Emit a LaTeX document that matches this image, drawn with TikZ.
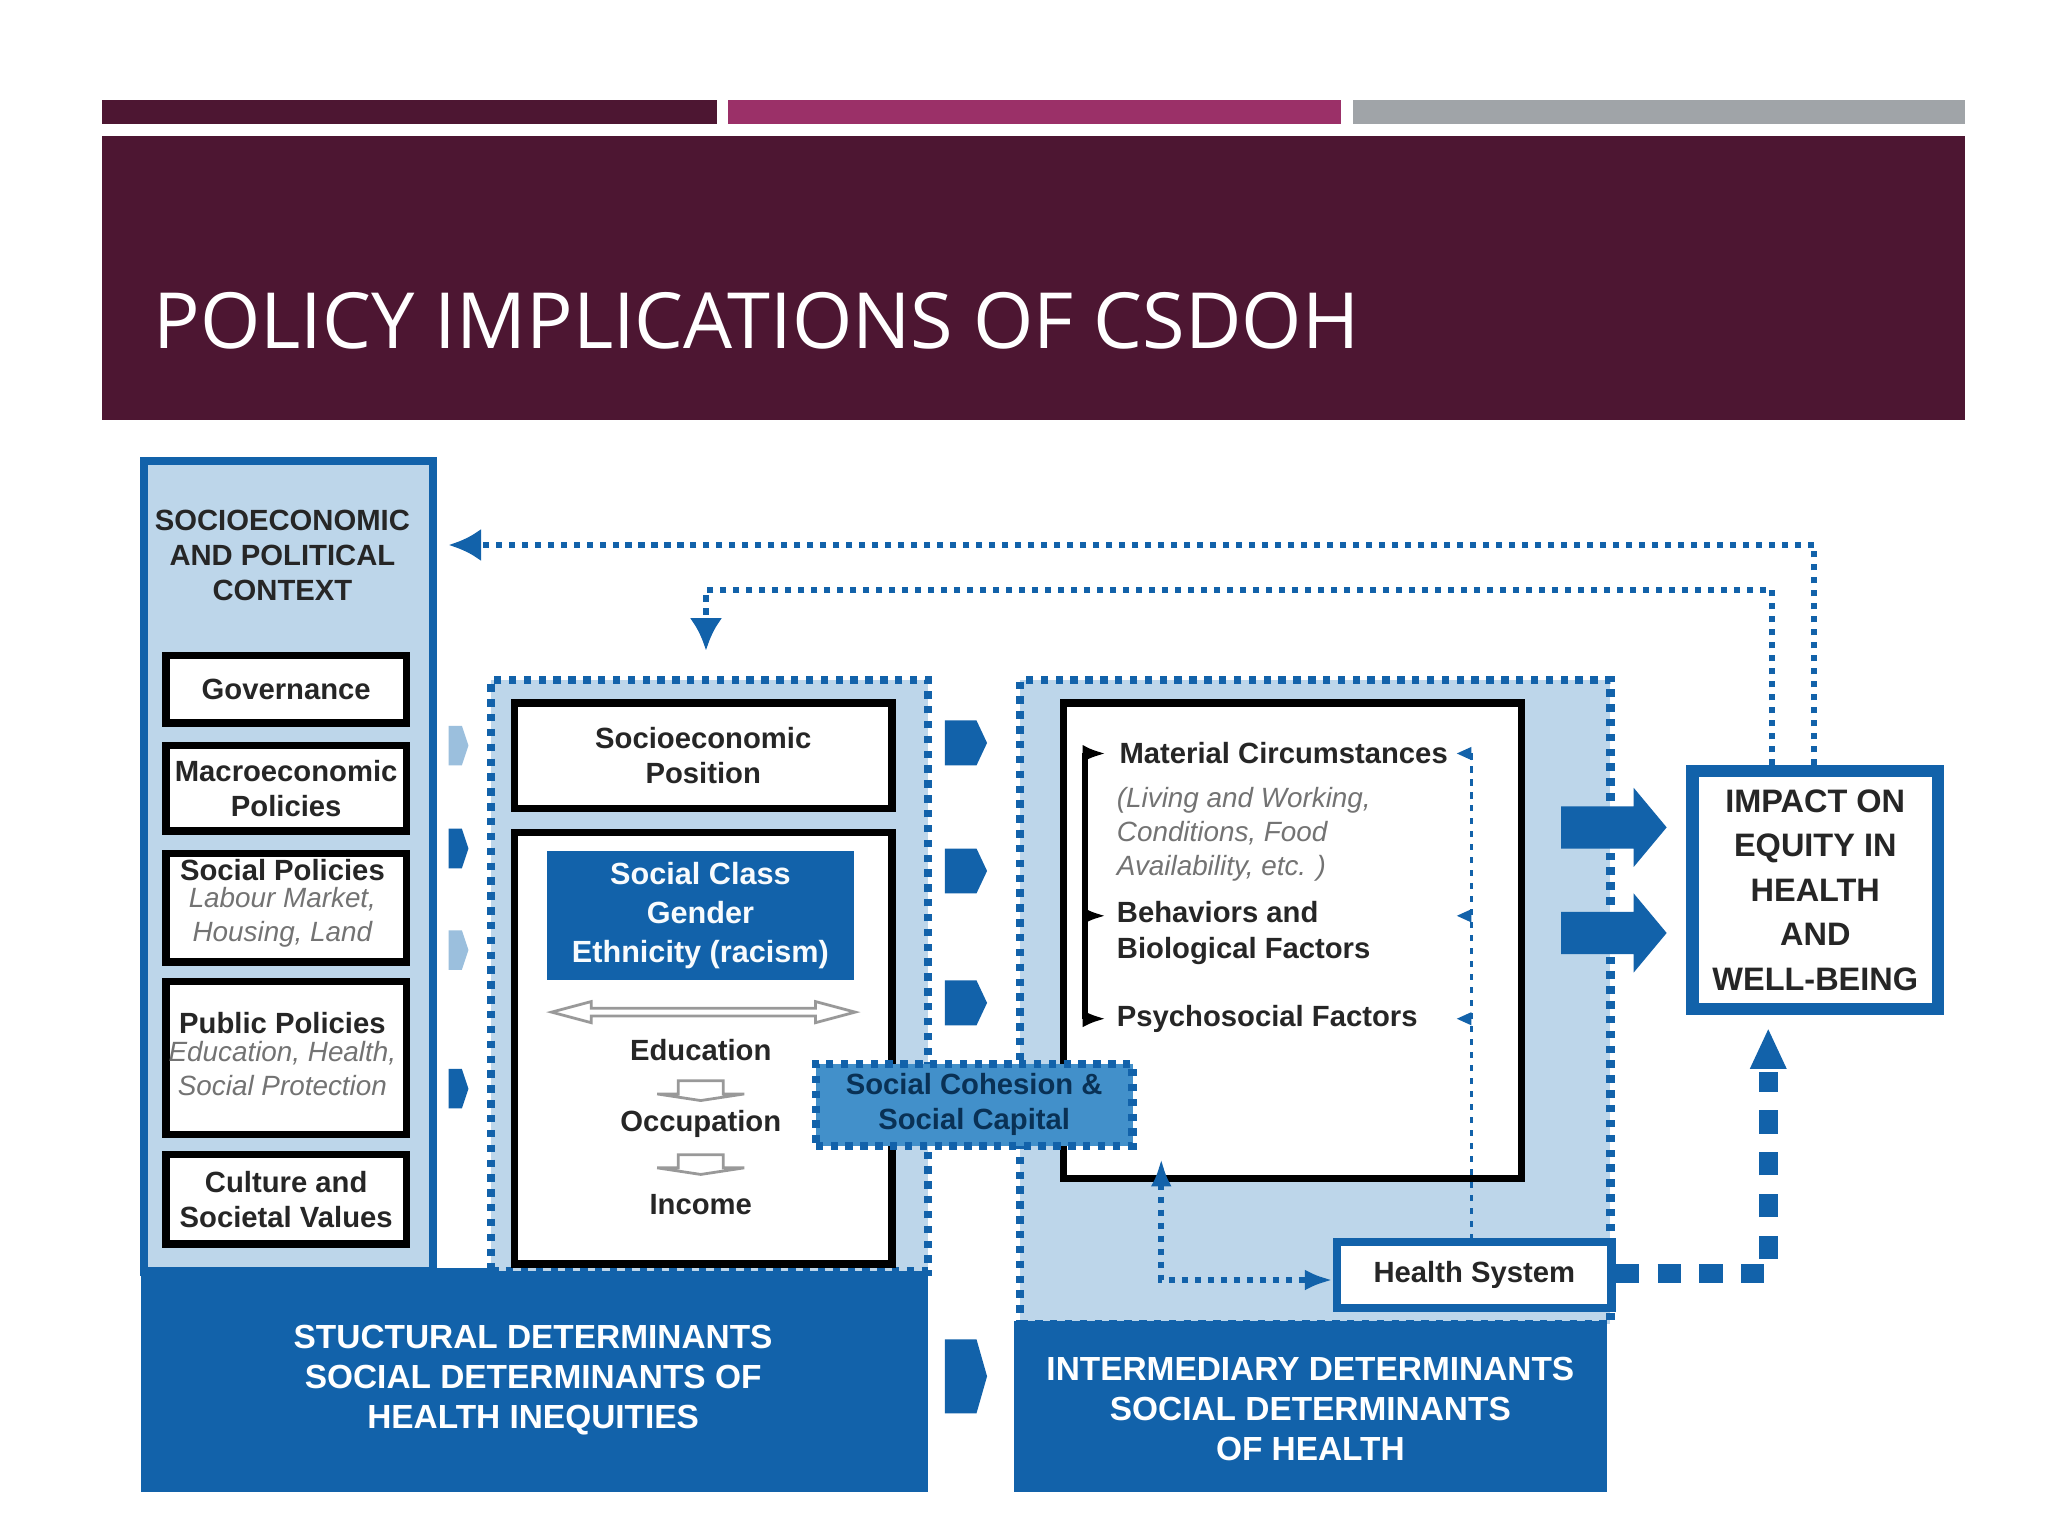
\documentclass[tikz,border=0pt]{standalone}
\usepackage{fontspec}
\setmainfont{Liberation Sans}
\newfontfamily\titlefont{Open Sans}
\usetikzlibrary{arrows.meta}
\definecolor{maroon}{HTML}{4D1632}
\definecolor{magen}{HTML}{9B3068}
\definecolor{grayb}{HTML}{A0A4A8}
\definecolor{dblue}{HTML}{1262AA}
\definecolor{lblue}{HTML}{BDD6EA}
\definecolor{mblue}{HTML}{4290CA}
\begin{document}
\begin{tikzpicture}[x=0.01cm,y=-0.01cm,
  txt/.style={font=\fontsize{6.3}{7.6}\selectfont\bfseries,align=center,text=black!85},
  itx/.style={font=\fontsize{6}{7.4}\selectfont\itshape,text=black!55},
  wbox/.style={draw=black,line width=1.6pt,fill=white,inner sep=0},
  wt/.style={font=\fontsize{7.2}{8.6}\selectfont\bfseries,align=center,text=white},
  dots/.style={draw=dblue,line width=1.8pt,dash pattern=on 1.6pt off 1.6pt},
  fb/.style={draw=dblue,line width=1.3pt,dash pattern=on 1.3pt off 1.5pt}]
\useasboundingbox (0,0) rectangle (1552,1164);
\fill[white] (0,0) rectangle (1552,1164);
% header
\fill[maroon] (77,76) rectangle (543,94);
\fill[magen] (552,76) rectangle (1016,94);
\fill[grayb] (1025,76) rectangle (1489,94);
\fill[maroon] (77,103) rectangle (1489,318);
\node[anchor=west,text=white,font=\titlefont\fontsize{16.7}{20}\selectfont] (title) at (104,243) {POLICY IMPLICATIONS OF CSDOH};
% left column
\node[draw=dblue,line width=1.8pt,fill=lblue,minimum width=2.19cm,minimum height=6.14cm,anchor=north west,inner sep=0] (ctx) at (106,346) {};
\node[txt] (ctxt) at (214,421) {SOCIOECONOMIC\\AND POLITICAL\\CONTEXT};
\node[wbox,minimum width=1.82cm,minimum height=0.51cm,anchor=north west] (gov) at (123,494) {};
\node[txt] at (gov) {Governance};
\node[wbox,minimum width=1.82cm,minimum height=0.65cm,anchor=north west] (mac) at (123,562) {};
\node[txt] at (mac) {Macroeconomic\\Policies};
\node[wbox,minimum width=1.82cm,minimum height=0.82cm,anchor=north west] (soc) at (123,644) {};
\node[txt] at (214,659) {Social Policies};
\node[itx,align=center] at (214,695) {Labour Market,\\Housing, Land};
\node[wbox,minimum width=1.82cm,minimum height=1.16cm,anchor=north west] (pub) at (123,741) {};
\node[txt] at (214,775) {Public Policies};
\node[itx,align=center] at (214,810) {Education, Health,\\Social Protection};
\node[wbox,minimum width=1.82cm,minimum height=0.68cm,anchor=north west] (cul) at (123,872) {};
\node[txt] at (cul) {Culture and\\Societal Values};
% structural
\node[fill=dblue,minimum width=5.96cm,minimum height=1.70cm,anchor=north west,inner sep=0] (str) at (106,960) {};
\node[wt] at (404,1046) {STUCTURAL DETERMINANTS\\SOCIAL DETERMINANTS OF\\HEALTH INEQUITIES};
% middle
\node[fill=lblue,dots,minimum width=3.31cm,minimum height=4.48cm,anchor=north west,inner sep=0] (mid) at (369,512) {};
\node[wbox,minimum width=2.86cm,minimum height=0.80cm,anchor=north west] (sep) at (387,530) {};
\node[txt] at (sep) {Socioeconomic\\Position};
\node[wbox,minimum width=2.86cm,minimum height=3.27cm,anchor=north west] (low) at (387,628) {};
\node[fill=dblue,minimum width=2.32cm,minimum height=0.98cm,anchor=north west,inner sep=0] (cls) at (414,644) {};
\node[wt,font=\fontsize{6.6}{8.4}\selectfont\bfseries,text=white!90!lblue] at (cls) {Social Class\\Gender\\Ethnicity (racism)};
\draw[draw=black!40,fill=white,line width=0.6pt] (418,767)--(448,759)--(448,764)--(618,764)--(618,759)--(648,767)--(618,775)--(618,770)--(448,770)--(448,775)--cycle;
\node[txt] (edu) at (531,796) {Education};
\draw[draw=black!40,fill=white,line width=0.6pt] (498,829)--(514,829)--(514,819)--(548,819)--(548,829)--(564,829)--(531,834)--cycle;
\node[txt] (occ) at (531,852) {Occupation};
\draw[draw=black!40,fill=white,line width=0.6pt] (498,885)--(514,885)--(514,875)--(548,875)--(548,885)--(564,885)--(531,890)--cycle;
\node[txt] (inc) at (531,913) {Income};
% small arrows left->middle
\foreach \y/\c in {565/lblue!80!dblue,643/dblue,720/lblue!80!dblue,825/dblue}{
  \fill[\c] (340,\y-15)--(350,\y-15)--(355,\y)--(350,\y+15)--(340,\y+15)--cycle;}
% arrows middle->right
\foreach \y in {563,660,760}{
  \fill[dblue] (716,\y-17)--(740,\y-17)--(748,\y)--(740,\y+17)--(716,\y+17)--cycle;}
\fill[dblue] (716,1015)--(740,1015)--(748,1043)--(740,1071)--(716,1071)--cycle;
% right
\node[fill=lblue,dots,minimum width=4.47cm,minimum height=4.88cm,anchor=north west,inner sep=0] (rgt) at (770,512) {};
\node[fill=dblue,minimum width=4.49cm,minimum height=1.30cm,anchor=north west,inner sep=0] (intd) at (768,1000) {};
\node[wt] at (993,1068) {INTERMEDIARY DETERMINANTS\\SOCIAL DETERMINANTS\\OF HEALTH};
\node[wbox,minimum width=3.47cm,minimum height=3.60cm,anchor=north west] (inner) at (803,530) {};
\node[txt,anchor=west] (mat) at (836,571) {Material Circumstances};
\node[itx,anchor=north west,align=left] at (834,584) {(Living and Working,\\Conditions, Food\\Availability, etc. )};
\node[txt,anchor=west,align=left] (beh) at (834,707) {Behaviors and\\Biological Factors};
\node[txt,anchor=west] (psy) at (834,772) {Psychosocial Factors};
\draw[line width=1.2pt] (822,571)--(822,772);
\foreach \y in {571,694,772}{\draw[-{Latex[length=5pt]},line width=1.2pt] (822,\y)--(838,\y);}
\coordinate (rt) at (1115,571);
\coordinate (rb) at (1115,940);
\draw[fb,line width=0.8pt] (rt)--(rb);
\foreach \y in {571,694,772}{\fill[dblue] (1104,\y)--(1115,\y-5)--(1115,\y+5)--cycle;}
\node[fill=mblue,dots,minimum width=2.40cm,minimum height=0.62cm,anchor=north west,inner sep=0] (coh) at (615,803) {};
\node[txt,text=dblue!50!black] at (coh) {Social Cohesion \&\\Social Capital};
% health system
\node[draw=dblue,line width=1.8pt,fill=white,minimum width=2.08cm,minimum height=0.50cm,anchor=north west,inner sep=0] (hs) at (1010,938) {};
\node[txt] at (hs) {Health System};
\coordinate (hsc) at (880,970);
\draw[fb,{Latex[length=6pt]}-{Latex[length=6pt]}] (880,878)--(hsc)--(hs.west|-hsc);
% impact
\node[draw=dblue,line width=2.6pt,fill=white,minimum width=1.86cm,minimum height=1.80cm,anchor=north west,inner sep=0] (imp) at (1278,580) {};
\node[txt,font=\fontsize{7}{9.6}\selectfont\bfseries] at (imp) {IMPACT ON\\EQUITY IN\\HEALTH\\AND\\WELL-BEING};
\foreach \y in {627,707}{
  \fill[dblue] (1183,\y-16)--(1238,\y-16)--(1238,\y-30)--(1263,\y)--(1238,\y+30)--(1238,\y+16)--(1183,\y+16)--cycle;}
\coordinate (hr) at (1340,965);
\draw[draw=dblue,line width=4pt,dash pattern=on 5pt off 4pt] (hs.east|-hr)--(hr)--(1340,812);
\fill[dblue] (1340,780)--(1354,810)--(1326,810)--cycle;
% feedback
\coordinate (f1a) at (1375,413);
\coordinate (f2a) at (1343,447);
\coordinate (f2b) at (535,447);
\draw[fb,-{Latex[length=7pt,width=7pt]}] (f1a|-imp.north)--(f1a)--(340,413);
\draw[fb,-{Latex[length=7pt,width=7pt]}] (f2a|-imp.north)--(f2a)--(f2b)--(535,493);
\end{tikzpicture}
\end{document}
